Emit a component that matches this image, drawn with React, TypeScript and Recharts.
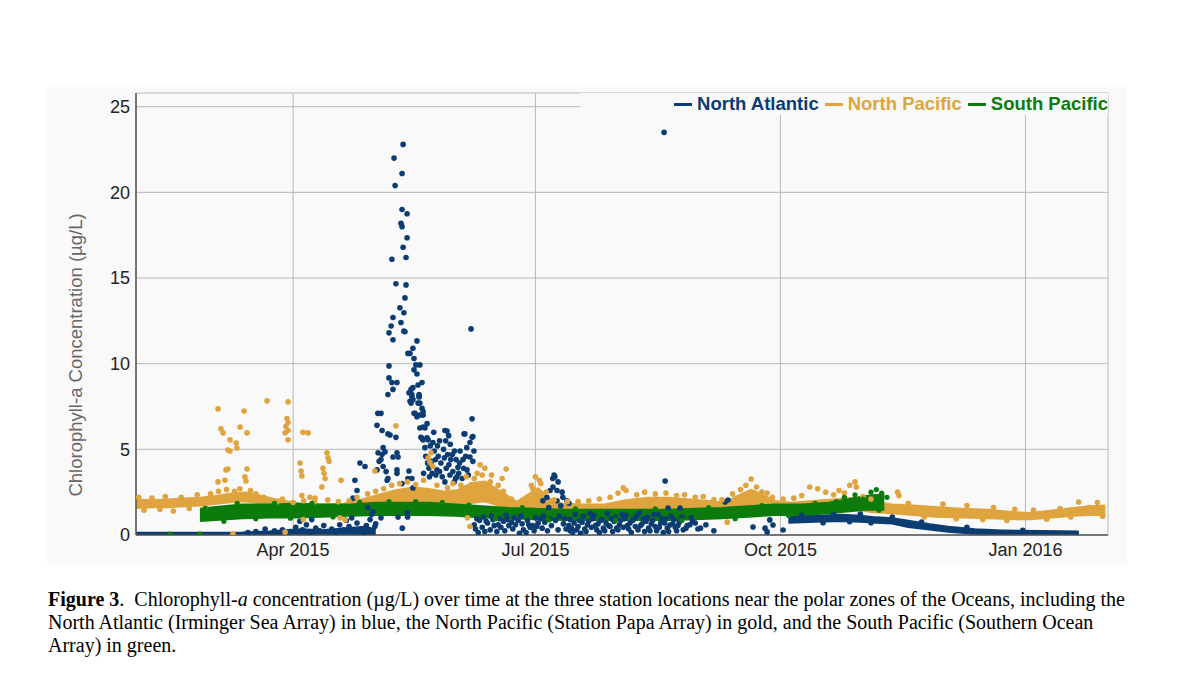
import React from 'react';
import { ComposedChart, Area, Scatter, XAxis, YAxis, CartesianGrid } from 'recharts';

// Days are counted from 1 Feb 2015; values are chlorophyll-a in µg/L.
const dayTicks = [59, 150, 242, 334];
const dayTickLabels = ['Apr 2015', 'Jul 2015', 'Oct 2015', 'Jan 2016'];
const valueTicks = [0, 5, 10, 15, 20, 25];

const seriesNames = ['North Atlantic', 'North Pacific', 'South Pacific'];
const seriesColors = ['#0b3c72', '#e0a43f', '#0b7c0b'];

// Dense parts of each record: [day, low, high]
const northAtlanticWinterBand: [number, number, number][] = [
  [0, 0, 0.1], [20, 0, 0.1], [40, 0, 0.12], [50, 0, 0.18], [56, 0, 0.25], [62, 0.05, 0.3],
  [70, 0.05, 0.25], [78, 0.05, 0.35], [86, 0.05, 0.45], [90, 0.05, 0.3],
];
const northAtlanticAutumnBand: [number, number, number][] = [
  [245, 0.75, 1.05], [255, 0.8, 1.1], [265, 0.85, 1.15], [272, 0.8, 1.1], [278, 0.75, 1.0],
  [284, 0.7, 0.95], [290, 0.5, 0.8], [298, 0.35, 0.6], [305, 0.22, 0.45], [315, 0.1, 0.3],
  [325, 0.06, 0.24], [340, 0.05, 0.2], [354, 0.05, 0.18],
];
const northPacificBand: [number, number, number][] = [
  [0, 1.6, 2.05], [6, 1.65, 2.0], [12, 1.65, 2.05], [18, 1.7, 2.1], [24, 1.75, 2.15], [30, 1.85, 2.25],
  [36, 1.95, 2.4], [41, 2.0, 2.45], [46, 1.9, 2.3], [51, 1.75, 2.1], [56, 1.65, 1.95], [62, 1.5, 1.8],
  [70, 1.5, 1.75], [78, 1.55, 1.8], [85, 1.7, 2.05], [92, 1.8, 2.35], [98, 1.85, 2.6], [104, 1.9, 2.75],
  [110, 1.85, 2.65], [116, 1.8, 2.5], [121, 1.75, 2.6], [126, 1.9, 3.0], [131, 2.0, 3.1], [135, 1.8, 2.7],
  [139, 1.6, 2.3], [143, 1.4, 1.9], [147, 1.5, 2.3], [151, 1.7, 2.7], [155, 1.5, 2.1], [160, 1.35, 1.8],
  [168, 1.3, 1.75], [176, 1.3, 1.75], [184, 1.4, 2.0], [192, 1.5, 2.15], [200, 1.5, 2.15], [208, 1.45, 2.05],
  [215, 1.4, 1.95], [221, 1.4, 1.85], [226, 1.55, 2.25], [231, 1.7, 2.6], [235, 1.6, 2.35], [240, 1.45, 1.95],
  [246, 1.4, 1.85], [254, 1.4, 1.95], [262, 1.5, 2.05], [270, 1.5, 2.15], [277, 1.35, 1.9], [284, 1.3, 1.75],
  [292, 1.2, 1.7], [300, 1.1, 1.6], [310, 1.05, 1.5], [320, 1.0, 1.45], [330, 0.95, 1.3], [336, 0.95, 1.25],
  [344, 1.05, 1.4], [352, 1.15, 1.55], [358, 1.2, 1.65], [364, 1.2, 1.7],
];
const southPacificBand: [number, number, number][] = [
  [24, 0.85, 1.5], [30, 0.9, 1.6], [40, 1.0, 1.75], [50, 1.05, 1.75], [60, 1.05, 1.8], [70, 1.1, 1.75],
  [80, 1.15, 1.75], [90, 1.2, 1.85], [100, 1.2, 1.85], [110, 1.2, 1.85], [120, 1.15, 1.75], [130, 1.05, 1.65],
  [140, 1.0, 1.55], [150, 0.95, 1.5], [160, 0.9, 1.45], [175, 0.9, 1.45], [190, 0.9, 1.45], [200, 0.9, 1.45],
  [210, 0.95, 1.5], [220, 1.0, 1.55], [230, 1.1, 1.65], [240, 1.2, 1.75], [250, 1.2, 1.75], [260, 1.3, 1.85],
  [267, 1.4, 2.05], [274, 1.5, 2.25], [281, 1.5, 2.35],
];

// Individual samples: [day, value]
const northAtlanticPoints: [number, number][] = [
  // spring bloom
  [100.3, 22.8], [96.9, 22.0], [99.9, 21.1], [97.3, 20.4], [99.9, 19.0], [101.8, 18.75], [99.5, 18.2], [99.9, 18.0],
  [101.8, 17.35], [100.3, 16.8], [96.1, 16.1], [101.4, 16.2], [97.6, 14.66], [101.4, 14.6], [101, 13.84], [99.1, 13.26],
  [100.6, 12.97], [96.5, 12.7], [99.5, 12.4], [95.8, 12.2], [95, 11.8], [100.6, 11.9], [101, 11.86], [96.5, 11.4],
  [125.8, 12.03], [105.5, 11.33], [104, 10.9], [102.1, 10.6], [102.9, 10.6], [104.4, 10.3], [105.1, 9.93], [106.6, 9.93],
  [95, 9.87], [104.4, 9.64], [105.5, 9.4], [95, 9.17], [96.1, 8.9], [98, 8.9], [96.5, 8.5], [107.4, 8.9],
  [105.9, 8.76], [104, 8.6], [103.3, 8.5], [103.6, 8.2], [106.3, 8.2], [106.3, 8.06], [94.6, 8.2], [103.3, 7.7],
  [104, 7.9], [105.9, 7.7], [104.4, 7.1], [105.5, 6.9], [106.6, 7.0], [107.8, 7.2], [107.4, 7.4], [92, 7.1],
  [109.3, 6.5], [90.5, 6.4], [92.4, 6.1], [94.6, 5.9], [95.4, 5.84], [97.6, 5.7], [107.8, 6.3], [108.5, 6.25],
  [116, 6.1], [116.8, 6.07], [123.2, 5.9], [126.2, 6.78], [126.2, 5.7], [107, 5.7], [109.3, 5.67],
  [92.8, 5.1], [92.4, 4.7], [93.5, 4.85], [92, 4.4], [91.3, 4.3], [92.8, 4.0], [90.5, 3.8], [93.9, 3.7],
  [94.3, 3.2], [98, 4.8], [98.4, 4.55], [98, 3.8], [102.5, 3.74], [103.6, 3.3], [102.1, 3.3], [102.5, 8.3],
  [103.6, 8.06], [106.3, 8.1], [102.9, 7.8], [106.6, 7.7], [104.8, 7.1], [107.8, 7.0], [106.6, 6.25], [107.4, 5.65],
  [107.8, 5.55], [109.7, 5.55], [111.5, 5.4], [108.5, 5.1], [123.5, 5.9], [126.5, 5.75], [125.4, 5.4], [126.9, 4.9],
  [125.4, 4.55], [126.5, 4.3], [121.7, 4.9], [122.8, 4.4], [120.9, 3.95], [124.3, 3.8], [120.5, 3.4], [117.9, 3.5],
  [110.5, 5.2], [112, 4.9], [113.5, 4.6], [111, 4.3], [114.5, 4.2], [115.5, 5.0], [117, 4.7], [118.2, 4.4],
  [116.5, 3.9], [119, 3.7], [119.6, 4.9], [113, 3.8], [110, 3.9], [108.8, 4.6], [112.6, 3.5], [115, 3.4],
  [118, 5.3], [120.2, 4.4], [121.2, 3.6], [122.5, 3.3], [123.8, 4.6], [124.8, 3.5], [114, 5.5], [117.4, 5.8],
  [111.8, 6.0], [110.2, 3.4], [119.5, 3.1], [116, 3.1], [109.5, 4.2], [108, 3.6],
  [112.5, 4.4], [114, 3.7], [115.8, 4.5], [117.5, 4.1], [118.8, 4.7], [120, 3.3], [121.5, 4.2], [123, 3.9],
  [124.2, 5.1], [113.2, 5.2], [111.2, 3.6], [116.3, 5.5],
  // rise ahead of the bloom
  [84.1, 4.2], [86, 4.0], [90.9, 4.8], [96.5, 4.55], [98, 3.6], [94.6, 3.3], [99.9, 3.0], [104, 2.75],
  [82.2, 3.2], [83, 2.6], [81.5, 2.15], [87.1, 1.6], [89, 1.35], [87.9, 0.9], [89.7, 0.5], [98.4, 1.05],
  [101.8, 1.3], [90.8, 7.1], [88.5, 1.2], [90, 0.65], [92, 1.0], [102, 1.05], [100, 0.4],
  // low values in spring
  [58, 0.2], [60, 0.45], [61.5, 0.8], [62.5, 0.3], [64, 0.6], [65.5, 0.15], [66, 0.9], [67.5, 0.4],
  [69, 0.25], [70.5, 0.55], [72, 0.2], [73.5, 0.35], [75, 0.15], [76.5, 0.6], [78, 0.3], [79, 0.85],
  [80, 0.5], [81, 1.0], [82, 0.2], [83, 0.7], [84.5, 0.35], [85.5, 0.1], [86.5, 0.55], [55, 0.3],
  [52, 0.25], [48.5, 0.35], [45, 0.2], [42, 0.15],
  // early summer
  [127, 0.6], [129, 0.85], [131, 0.2], [132, 0.7], [134, 0.9], [136, 0.6], [138, 0.8], [140, 0.55],
  [141, 0.75], [144, 0.1], [145, 0.65], [147, 0.85], [149, 0.55], [151, 0.7], [152, 0.95],
  [127.5, 0.35], [128.5, 0.15], [130, 0.45], [131.5, 0.8], [133, 0.3], [134.5, 0.55], [135.5, 0.2], [137, 0.45],
  [138.5, 0.25], [139.5, 0.9], [141.5, 0.35], [142.5, 0.6], [143.5, 0.85], [145.5, 0.3], [146.5, 0.15], [148, 0.45],
  [149.5, 0.25], [150.5, 0.5], [152.5, 0.4], [153.5, 0.75], [154.5, 0.25], [156, 0.55], [157.5, 0.85], [158.5, 0.3],
  [128, 0.95], [130.5, 1.05], [133.5, 1.1], [136.5, 0.95], [139, 1.15], [142, 1.0], [144.5, 1.1], [147.5, 0.6],
  [150, 1.0], [153, 1.1], [155.5, 0.95], [159, 1.1],
  [157.3, 3.4], [158.5, 3.1], [156.6, 2.8], [158.1, 2.6], [160, 2.5], [160.3, 2.2], [161.8, 2.0], [162.6, 1.85],
  [155.5, 2.6], [154.3, 2.2], [152.8, 2.0], [158.1, 2.0], [157, 3.5], [156.5, 3.3], [155, 1.6], [159.5, 1.7],
  // summer
  [160.5, 0.65], [161.5, 0.35], [162.5, 0.55], [163.5, 0.4], [164.5, 0.7], [166, 0.5], [166.5, 0.85], [168.5, 0.35],
  [169.5, 0.6], [171, 0.45], [171.5, 0.95], [173, 0.3], [173.5, 0.65], [175.5, 0.4], [176.5, 0.7], [178, 0.5],
  [178.5, 0.95], [180.5, 0.4], [181.5, 0.6], [183, 0.45], [183.5, 0.95], [185, 0.35], [185.5, 0.7], [187.5, 0.5],
  [188.5, 0.3], [190, 0.65], [190.5, 0.95], [192.5, 0.4], [193.5, 0.65], [195, 0.5], [195.5, 0.25], [197, 0.7],
  [197.5, 0.95], [199.5, 0.4], [201.5, 0.65], [202.5, 0.45], [204, 0.75], [205.5, 0.3], [207, 0.55], [209, 0.8],
  [211, 0.35], [214, 0.6], [217, 0.25],
  [161, 0.95], [163, 0.25], [165.5, 0.3], [167.5, 0.75], [169, 0.2], [170.5, 1.25], [172.5, 0.55], [174.5, 0.85],
  [176, 0.25], [177.5, 0.55], [179.5, 0.8], [181, 0.3], [182.5, 1.2], [184.5, 0.55], [186.5, 0.85], [188, 1.1],
  [189.5, 0.55], [191.5, 0.8], [193, 0.25], [194.5, 1.2], [196.5, 0.45], [198.5, 0.7], [200, 0.2], [202, 0.9],
  [203.5, 0.55], [205, 1.05], [206.5, 0.4], [208.5, 1.0], [210, 0.7],
  [163, 0.9], [164, 0.15], [165, 1.2], [167, 0.1], [168, 1.1], [170, 0.8], [172, 1.15], [174, 0.15],
  [175, 0.9], [177, 1.25], [179, 0.2], [180, 1.05], [182, 0.85], [184, 1.15], [186, 0.15], [187, 0.95],
  [189, 1.3], [191, 0.2], [192, 1.05], [194, 0.85], [196, 1.2], [198, 0.15], [199, 0.95], [201, 1.1],
  [203, 0.25], [204.3, 1.58], [199.8, 1.58], [200.5, 0.58], [198.3, 23.5], [198.7, 3.15],
  [208, 0.6], [212, 0.4], [221.2, 1.93], [222.3, 2.04], [231.7, 0.47], [236.2, 0.4], [238, 0.88], [239.2, 0.58],
  [237, 0.18], [243, 0.29],
  // autumn decline
  [250, 1.15], [258, 0.72], [262, 1.2], [268, 0.78], [272, 1.22], [276, 0.72], [284, 1.05], [295, 0.75],
  [312, 0.45], [333, 0.28],
];

const northPacificPoints: [number, number][] = [
  [30.8, 7.36], [40.6, 7.24], [49.2, 7.83], [57.1, 7.77], [56.7, 6.8], [57.1, 6.57], [56.3, 6.34], [57.1, 6.1],
  [56, 5.96], [57.1, 5.55], [31.9, 6.2], [32.7, 5.96], [39.1, 6.3], [41.7, 5.96], [35.3, 5.55], [37.6, 5.37],
  [34.5, 4.96], [35.3, 4.9], [37.9, 5.08], [62.7, 6.0], [64.6, 5.96], [33.8, 3.8], [34.5, 3.85], [41.7, 3.85],
  [30.8, 3.1], [33.4, 3.2], [40.9, 3.4], [41.3, 3.15], [61.6, 4.2], [62, 3.74], [62.3, 3.45], [71.7, 4.8],
  [72.1, 4.5], [72.5, 4.3], [70.2, 3.9], [70.6, 3.6], [71, 3.3], [69.8, 2.8], [77, 3.2], [62.3, 2.3],
  [65.3, 2.2], [67.2, 2.15], [36.4, 0.06], [56, 0.17], [62.8, 0.9], [76.6, 1.0], [78.5, 0.88],
  [97.6, 6.37], [110.8, 4.8], [109.7, 4.5], [111.5, 4.0], [110.4, 4.25], [89.7, 3.74], [129.2, 4.1], [131, 3.9],
  [139, 3.85], [128.1, 3.6], [137.5, 3.3], [150, 3.4], [151.5, 3.2], [124.5, 1.0], [125.4, 0.5], [133.5, 3.5],
  [126, 2.95], [148.5, 2.9],
  [1, 2.2], [3, 1.45], [6, 2.15], [9, 1.5], [11, 2.25], [14, 1.4], [17, 2.2], [20, 1.55],
  [23, 2.35], [26, 1.6], [28, 2.4], [31, 2.55], [34, 2.65], [37, 2.55], [39, 2.7], [43, 2.6],
  [45, 2.4], [48, 2.2], [50, 2.05], [53, 1.95], [55, 2.1], [59, 1.9], [63, 2.0], [67, 1.95],
  [72, 2.05], [76, 1.95], [80, 2.0], [83, 2.2],
  [87, 2.4], [90, 2.55], [93, 2.7], [96, 2.9], [99, 3.0], [102, 3.1], [105, 2.95], [108, 3.2],
  [113, 2.9], [117, 2.75], [119, 3.0], [122, 2.9], [124, 3.4], [127, 3.3], [130, 3.5], [133, 3.1],
  [136, 2.9], [138, 2.55], [141, 2.1], [145, 2.0], [149, 2.7], [152, 3.0], [154, 2.5], [157, 2.05], [162, 1.95],
  [166, 1.95], [170, 2.0], [174, 2.1], [178, 2.2], [181, 2.45], [183, 2.75], [184, 2.6], [188, 2.35],
  [191, 2.5], [195, 2.4], [199, 2.45], [203, 2.3], [206, 2.35], [210, 2.2], [213, 2.25], [217, 2.05],
  [220, 2.05], [222, 0.75], [224, 2.4], [227, 2.65], [229, 2.9], [231, 3.27], [233, 2.8], [235, 2.5],
  [237, 2.45], [239, 2.2], [243, 2.1], [247, 2.15], [250, 2.3], [253, 2.8], [256, 2.7], [259, 2.5],
  [262, 2.35], [264, 2.6], [266, 2.45], [268, 2.9], [270, 3.1], [270.5, 2.8], [273, 2.25], [276, 2.1],
  [286, 2.5], [286.5, 2.3],
  [290, 1.85], [296, 1.05], [303, 1.8], [308, 0.95], [312, 1.72], [318, 0.9], [322, 1.6], [327, 0.85],
  [330, 1.5], [337, 1.45], [342, 0.92], [347, 1.55], [351, 1.05], [354, 1.93], [358, 1.6], [361, 1.9], [363, 1.1],
];

const southPacificPoints: [number, number][] = [
  [26, 1.55], [33, 0.8], [38, 1.85], [45, 0.95], [52, 1.85], [58, 0.98], [66, 1.85], [74, 1.05],
  [84, 1.9], [95, 1.95], [105, 1.95], [115, 1.9], [125, 1.75], [135, 0.95], [145, 1.6], [155, 0.88],
  [165, 1.52], [180, 0.85], [195, 1.52], [205, 0.85], [215, 1.6], [225, 0.95], [235, 1.72], [245, 1.15],
  [255, 1.85], [263, 1.95], [266, 2.2], [270, 2.35], [273, 2.1], [276, 2.5], [278, 2.65], [280, 2.45],
  [282, 2.2], [279, 1.45], [12.8, 0.05], [24, 0.05],
];

const toBand = (rows: [number, number, number][]) => rows.map(([day, lo, hi]) => ({ day, range: [lo, hi] }));
const toPoints = (rows: [number, number][]) => rows.map(([day, value]) => ({ day, value }));

const makeDot = (color: string, r: number) => (props: any) =>
  props.cx == null ? <g /> : <circle cx={props.cx} cy={props.cy} r={r} fill={color} />;

const fontFamily = '"Liberation Sans", Arial, Helvetica, sans-serif';

const bandArea = (key: string, rows: [number, number, number][], color: string) => (
  <Area
    key={key}
    data={toBand(rows)}
    dataKey="range"
    type="linear"
    fill={color}
    fillOpacity={1}
    stroke={color}
    strokeWidth={3}
    strokeLinejoin="round"
    isAnimationActive={false}
    dot={false}
    activeDot={false}
  />
);

export default function App() {
  return (
    <div style={{ position: 'relative', width: 1166, height: 681, background: '#ffffff' }}>
      <div style={{ position: 'absolute', left: 39, top: 79, width: 1080, height: 478, background: '#f9f9f9' }}>
        <ComposedChart width={1080} height={478} margin={{ top: 6, right: 19, bottom: 0, left: 0 }}>
          <CartesianGrid stroke="#b8b8b8" strokeWidth={1} />
          <XAxis
            type="number"
            dataKey="day"
            domain={[0, 365]}
            allowDataOverflow
            ticks={dayTicks}
            tickFormatter={(v: number) => dayTickLabels[dayTicks.indexOf(v)] ?? ''}
            tickLine={false}
            tickSize={0}
            tickMargin={8}
            height={30}
            axisLine={{ stroke: '#555', strokeWidth: 1.5 }}
            tick={{ fill: '#222', fontSize: 18, fontFamily }}
          />
          <YAxis
            type="number"
            dataKey="value"
            domain={[0, 25.8]}
            allowDataOverflow
            ticks={valueTicks}
            tickLine={false}
            tickSize={0}
            tickMargin={6}
            width={89}
            axisLine={{ stroke: '#555', strokeWidth: 1.5 }}
            tick={{ fill: '#222', fontSize: 18, fontFamily }}
            label={{
              content: () => {
                const cx = 28;
                const cy = 268;
                return (
                  <text
                    x={cx}
                    y={cy}
                    transform={`rotate(-90, ${cx}, ${cy})`}
                    textAnchor="middle"
                    dominantBaseline="central"
                    fill="#666"
                    fontSize={18.5}
                    fontFamily={fontFamily}
                  >
                    Chlorophyll-a Concentration (µg/L)
                  </text>
                );
              },
            }}
          />
          {bandArea('naw', northAtlanticWinterBand, seriesColors[0])}
          {bandArea('naa', northAtlanticAutumnBand, seriesColors[0])}
          <Scatter
            data={toPoints(northAtlanticPoints)}
            dataKey="value"
            shape={makeDot(seriesColors[0], 2.8)}
            isAnimationActive={false}
          />
          {bandArea('np', northPacificBand, seriesColors[1])}
          <Scatter
            data={toPoints(northPacificPoints)}
            dataKey="value"
            shape={makeDot(seriesColors[1], 2.8)}
            isAnimationActive={false}
          />
          {bandArea('sp', southPacificBand, seriesColors[2])}
          <Scatter
            data={toPoints(southPacificPoints)}
            dataKey="value"
            shape={makeDot(seriesColors[2], 2.6)}
            isAnimationActive={false}
          />
        </ComposedChart>
      </div>

      <div
        style={{
          position: 'absolute',
          left: 572,
          top: 85,
          width: 528,
          height: 22,
          background: '#f9f9f9',
          display: 'flex',
          justifyContent: 'flex-end',
          alignItems: 'center',
          fontFamily,
          fontWeight: 'bold',
          fontSize: 18.5,
          whiteSpace: 'nowrap',
        }}
      >
        {seriesNames.map((name, i) => (
          <div key={name} style={{ display: 'flex', alignItems: 'center', marginLeft: 6, color: seriesColors[i] }}>
            <span style={{ display: 'inline-block', width: 18, height: 3, background: seriesColors[i], marginRight: 5 }} />
            <span>{name}</span>
          </div>
        ))}
      </div>

      <div
        style={{
          position: 'absolute',
          left: 40,
          top: 580,
          fontFamily: '"Liberation Serif", "Times New Roman", serif',
          fontSize: 20,
          lineHeight: '23px',
          color: '#000',
          whiteSpace: 'nowrap',
        }}
      >
        <b>Figure 3</b>.&nbsp; Chlorophyll-<i>a</i> concentration (µg/L) over time at the three station locations near the polar zones of the Oceans, including the
        <br />
        North Atlantic (Irminger Sea Array) in blue, the North Pacific (Station Papa Array) in gold, and the South Pacific (Southern Ocean
        <br />
        Array) in green.
      </div>
    </div>
  );
}
